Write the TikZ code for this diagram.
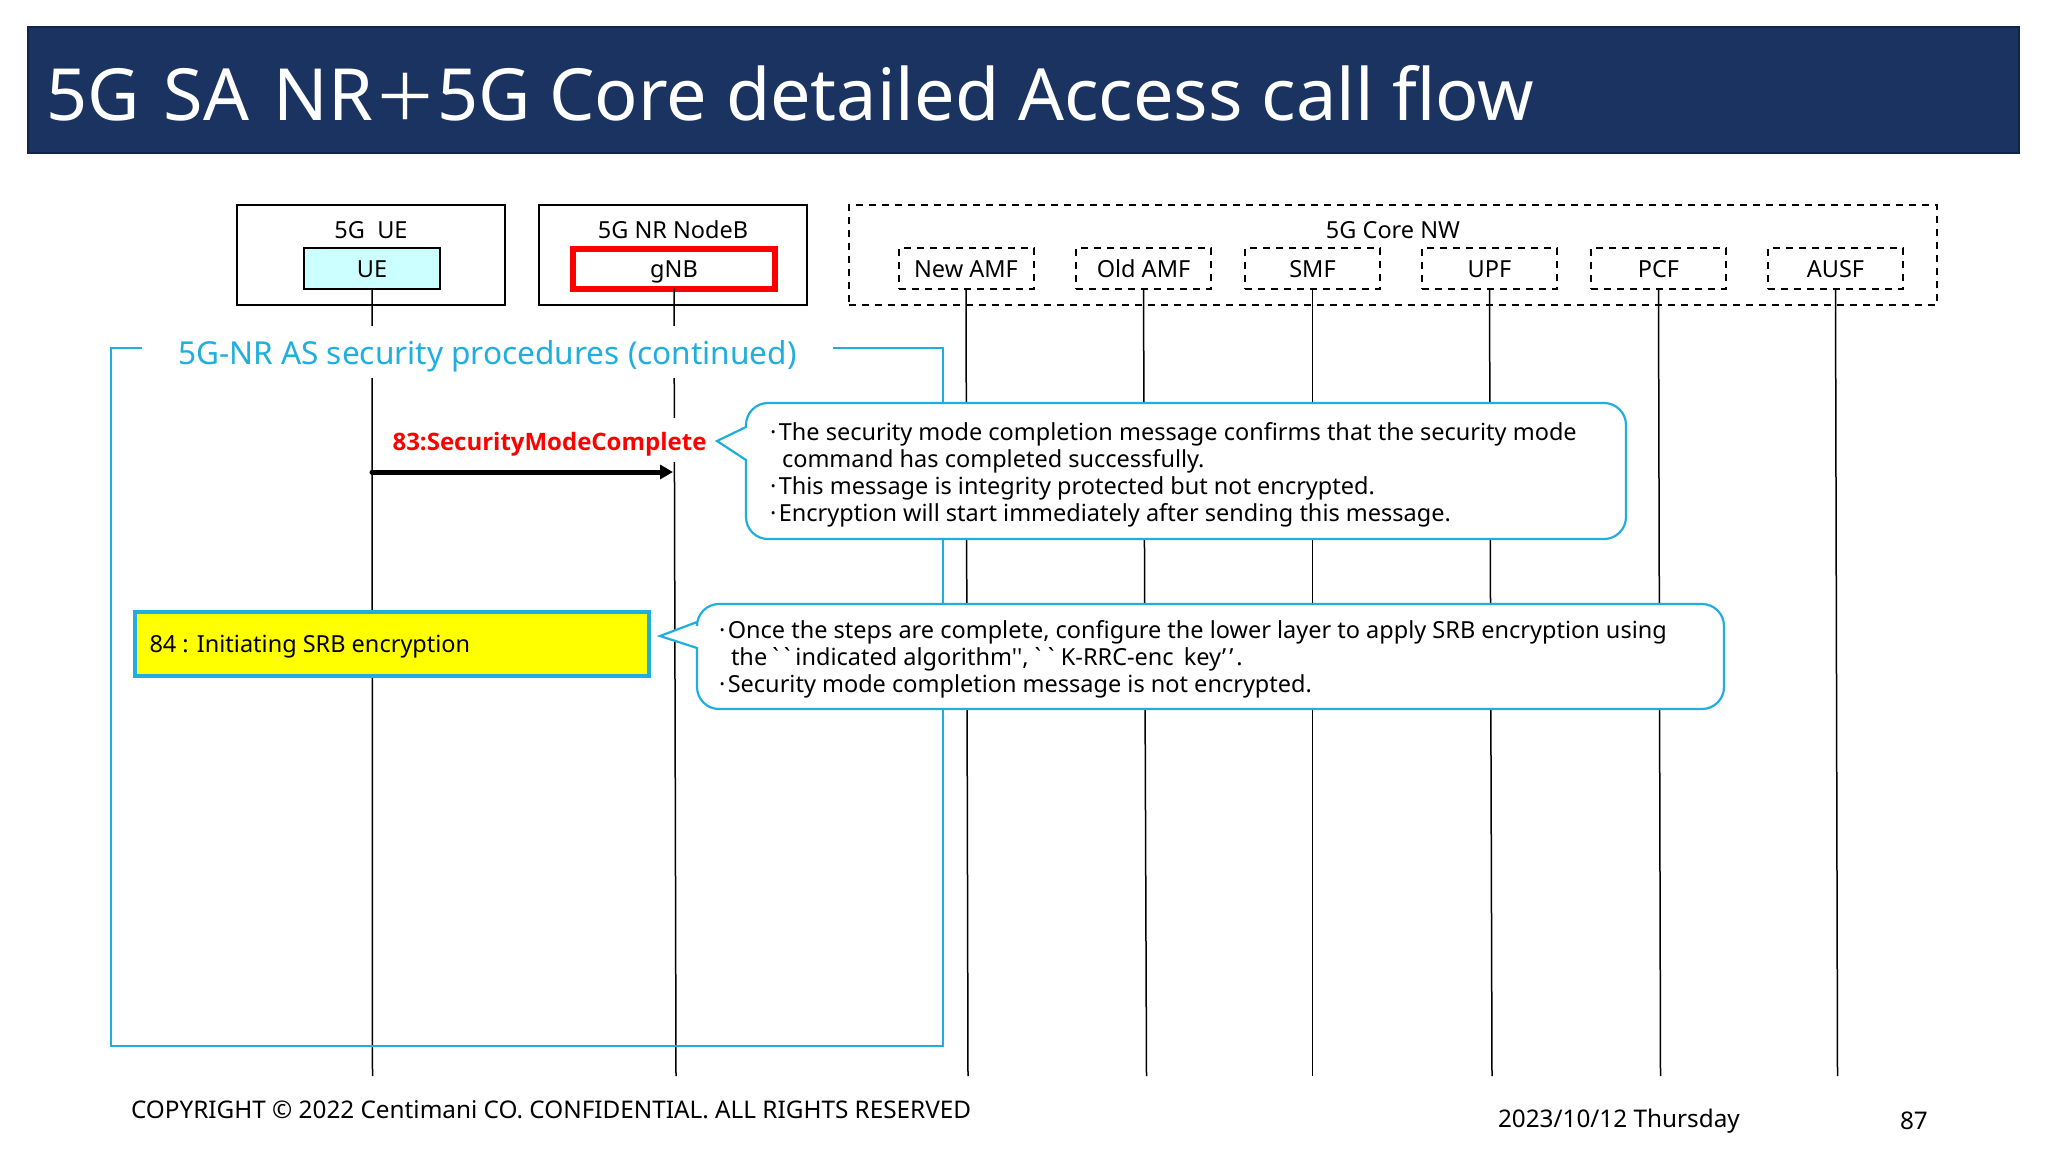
\documentclass[tikz,border=0pt]{standalone}
\usepackage{fontspec}
\usetikzlibrary{arrows.meta}
\newfontfamily\nf{Noto Sans}
\newfontfamily\ob{Open Sans}
\newfontfamily\cjk{Noto Sans CJK JP}
\definecolor{navy}{HTML}{1B3361}
\definecolor{navyb}{HTML}{10254A}
\definecolor{cy}{HTML}{1FAEDF}
\definecolor{pale}{HTML}{CCFFFF}
\definecolor{yel}{HTML}{FFFF00}
\definecolor{redc}{HTML}{FF0000}
\newcommand{\fs}[2]{\fontsize{#1}{#2}\selectfont}
\newcommand{\dotb}{·\kern2.5pt}
\tikzset{
  x=1pt,y=-1pt,
  every node/.style={inner sep=0pt,outer sep=0pt,font=\nf\fs{23.5}{26.7},text=black},
  outerbox/.style={draw=black,line width=2pt,minimum width=268pt,minimum height=100pt},
  corebox/.style={draw=black,line width=2pt,dash pattern=on 7pt off 6pt,minimum width=1088pt,minimum height=100pt},
  lbl/.style={text height=17pt,text depth=0pt},
  amfbox/.style={lbl,draw=black,line width=2pt,dash pattern=on 7pt off 6pt,minimum width=135pt,minimum height=41pt},
  lifeline/.style={draw=black,line width=1.5pt},
  frameline/.style={draw=cy,line width=1.6pt},
  callout/.style={draw=cy,line width=2.2pt,fill=white},
  calltext/.style={align=left,anchor=north west},
}
\begin{document}
\begin{tikzpicture}
\useasboundingbox (0,0) rectangle (2048,1152);
\fill[white] (0,0) rectangle (2048,1152);
% title
\node[draw=navyb,fill=navy,line width=2.5pt,minimum width=1991pt,minimum height=126pt] (bar) at (1023.5,90) {};
\node[anchor=west,text=white,font=\nf\fs{72}{74}] (title) at (46,93) {5G\kern5.5pt{} SA\kern5.5pt{} NR{\cjk\fontsize{64}{74}\selectfont ＋}5G Core detailed Access call flow};
% header boxes
\node[outerbox] (uebox) at (371,255) {};
\node[outerbox] (gnbbox) at (672.5,255) {};
\node[corebox] (corebox) at (1392.5,255) {};
\node[lbl] (uelabel) at (371,229.5) {5G\ \ UE};
\node[lbl] (gnblabel) at (673,229.5) {5G NR NodeB};
\node[lbl] (corelabel) at (1393,229.5) {5G Core NW};
\node[lbl,draw=black,line width=2pt,fill=pale,minimum width=136pt,minimum height=41pt] (ue) at (372,268.5) {UE};
\node[lbl,draw=redc,line width=6pt,minimum width=202pt,minimum height=40pt] (gnb) at (674,268.5) {gNB};
\node[amfbox] (newamf) at (966,268.5) {New AMF};
\node[amfbox] (oldamf) at (1143.5,268.5) {Old AMF};
\node[amfbox] (smf) at (1312.5,268.5) {SMF};
\node[amfbox] (upf) at (1489.5,268.5) {UPF};
\node[amfbox] (pcf) at (1658.5,268.5) {PCF};
\node[amfbox] (ausf) at (1835.5,268.5) {AUSF};
% lifelines
\coordinate (ueend) at (372.5,1076);
\coordinate (gnbend) at (676,1076);
\coordinate (newend) at (968,1076);
\coordinate (oldend) at (1146.5,1076);
\coordinate (smfend) at (1312.5,1076);
\coordinate (upfend) at (1492,1076);
\coordinate (pcfend) at (1660.5,1076);
\coordinate (ausfend) at (1837.5,1076);
\draw[lifeline] (ue.south) -- (ueend);
\draw[lifeline] (gnb.south) -- (gnbend);
\draw[lifeline] (newamf.south) -- (newend);
\draw[lifeline] (oldamf.south) -- (oldend);
\draw[lifeline] (smf.south) -- (smfend);
\draw[lifeline] (upf.south) -- (upfend);
\draw[lifeline] (pcf.south) -- (pcfend);
\draw[lifeline] (ausf.south) -- (ausfend);
% frame
\draw[frameline] (142,348) -- (111,348) -- (111,1046) -- (943,1046) -- (943,348) -- (833,348);
\fill[white] (350,326) rectangle (700,378);
\node[anchor=west,text=cy,font=\nf\fs{31.6}{33}] (frametitle) at (178,356.5) {5G-NR AS security procedures (continued)};
% message
\node[lbl,fill=white,minimum width=313pt,minimum height=44pt,text=redc,font=\ob\bfseries\fs{24}{26}] (msg) at (549.5,440) {\raisebox{-2pt}{83:SecurityModeComplete}};
\coordinate (a83s) at (372,472);
\coordinate (a83e) at (673,472);
\draw[line width=5pt,line cap=round,-{Triangle[length=13pt,width=14pt]}] (a83s) -- (a83e);
% callout 1
\draw[callout] (746,427) [rounded corners=22pt] -- (746,403) -- (1626,403) -- (1626,539) -- (746,539) [sharp corners] -- (746,460) -- (717,441) -- cycle;
\node[calltext] (c1) at (770,423) {\dotb The security mode completion message confirms that the security mode\\
\hspace{12pt}command has completed successfully.\\
\dotb This message is integrity protected but not encrypted.\\
\dotb Encryption will start immediately after sending this message.};
% step 84
\node[lbl,draw=cy,line width=4pt,fill=yel,minimum width=514pt,minimum height=64pt,font=\nf\fs{23.5}{26}] (s84) at (392,643.5) {\makebox[485pt][l]{84 : Initiating SRB encryption}};
% callout 2
\draw[callout] (697,622) [rounded corners=22pt] -- (697,604) -- (1724,604) -- (1724,709) -- (697,709) [sharp corners] -- (697,648) -- (660,636) -- cycle;
\node[calltext] (c2) at (719,621) {\dotb Once the steps are complete, configure the lower layer to apply SRB encryption using\\
\hspace{12pt}the\kern5pt`\kern5pt`\kern5pt indicated algorithm'', `\kern6.5pt`\kern6.5pt K-RRC-enc\kern4pt{} key’\kern3pt’\kern3pt.\\
\dotb Security mode completion message is not encrypted.};
% footer
\node[anchor=west,font=\nf\fs{24.3}{27}] (copy) at (131,1110) {COPYRIGHT © 2022 Centimani CO. CONFIDENTIAL. ALL RIGHTS RESERVED};
\node[anchor=west,font=\nf\fs{24.3}{27}] (date) at (1498,1121) {2023/10/12 Thursday};
\node[anchor=west,font=\nf\fs{24.3}{27}] (page) at (1900,1121) {87};
\end{tikzpicture}
\end{document}
